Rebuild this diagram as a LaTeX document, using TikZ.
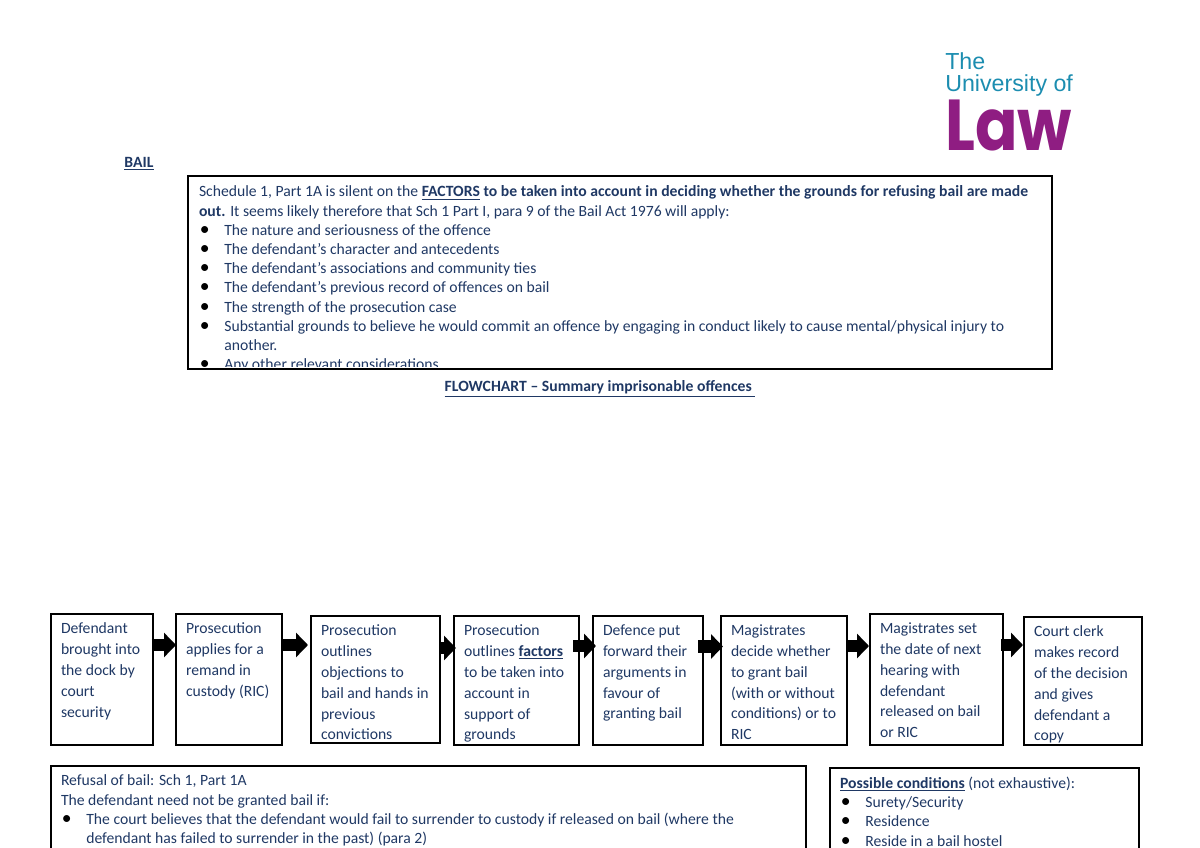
\documentclass[tikz,border=0pt]{standalone}
\usepackage{fontspec}
\usepackage{tikz}
\usetikzlibrary{arrows.meta}
\setmainfont[BoldFeatures={LetterSpace=0.2}]{Carlito}
\newfontfamily\logofont{Liberation Sans}
\newfontfamily\lawfont{Poppins}
\definecolor{inknavy}{HTML}{1F3864}
\definecolor{logoteal}{HTML}{1C8DB0}
\definecolor{logopurple}{HTML}{8F1D82}
\newdimen\px
\px=.75pt
% text that starts at the top of its box
\newcommand{\boxtext}[3]{\parbox[c][#2\px][t]{#1\px}{\raggedright #3}}
\newcommand{\bulletrow}{\makebox[19pt][l]{\hspace{.6pt}\textcolor{black}{\scalebox{1.25}{\textbullet}}}}
\newcommand{\indentrow}{\hspace*{19pt}}
\tikzset{
    textbox/.style={anchor=north west, text=inknavy, inner xsep=10\px, inner ysep=9\px, line width=1.5pt},
    flowbox/.style={textbox, draw, font=\fontsize{11.75}{15.6}\selectfont},
    notebox/.style={textbox, font=\fontsize{11.75}{14.4}\selectfont},
    heading/.style={text=inknavy, font=\fontsize{11.75}{14.4}\selectfont\bfseries, inner sep=0pt},
    bigarrow/.style={line width=9.5pt, -{Triangle[length=9pt,width=18pt]}}
}
\begin{document}
\begin{tikzpicture}[x=.75pt, y=-.75pt]
    \clip (0,0) rectangle (1200,848);

    %logo
    \node[anchor=west, inner sep=0pt, text=logoteal, font=\logofont\fontsize{17.4}{17.4}\selectfont] (logothe) at (945,61) {The};
    \node[anchor=west, inner sep=0pt, text=logoteal, font=\logofont\fontsize{17.4}{17.4}\selectfont] (logouni) at (945,86) {University of};
    \node[anchor=west, inner sep=0pt, text=logopurple, font=\lawfont\bfseries\fontsize{47}{47}\selectfont] (logolaw) at (945,125) {\scalebox{1}[1.15]{Law}};

    %headings
    \node[heading] (bail) at (139,164) {\underline{BAIL}};
    \node[heading] (title) at (600,389) {\underline{FLOWCHART -- Summary imprisonable offences\ }};

    %factors box, last row is cut off by the frame
    \begin{scope}
        \clip (188,176) rectangle (1052,367);
        \node[notebox] (factors) at (188,176) {\boxtext{842}{173}{%
            Schedule 1, Part 1A is silent on the \textbf{\underline{FACTORS} to be taken into account in deciding whether the grounds for refusing bail are made}\\
            \textbf{out.} It seems likely therefore that Sch 1 Part I, para 9 of the Bail Act 1976 will apply:\\
            \bulletrow The nature and seriousness of the offence\\
            \bulletrow The defendant’s character and antecedents\\
            \bulletrow The defendant’s associations and community ties\\
            \bulletrow The defendant’s previous record of offences on bail\\
            \bulletrow The strength of the prosecution case\\
            \bulletrow Substantial grounds to believe he would commit an offence by engaging in conduct likely to cause mental/physical injury to\\
            \indentrow another.\\
            \bulletrow Any other relevant considerations}};
    \end{scope}
    \draw[line width=1.5pt] (factors.north west) rectangle (factors.south east);

    %flow nodes
    \node[flowbox] (dock) at (50,613) {\boxtext{82}{113}{Defendant\\brought into\\the dock by\\court\\security}};
    \node[flowbox] (remand) at (175,613) {\boxtext{86}{113}{Prosecution\\applies for a\\remand in\\custody (RIC)}};
    \node[flowbox] (objections) at (310,615) {\boxtext{109}{109}{Prosecution\\outlines\\objections to\\bail and hands in\\previous\\convictions}};
    \node[flowbox] (grounds) at (453,615) {\boxtext{105}{111}{Prosecution\\outlines \textbf{\underline{factors}}\\to be taken into\\account in\\support of\\grounds}};
    \node[flowbox] (defence) at (592,615) {\boxtext{90}{111}{Defence put\\forward their\\arguments in\\favour of\\granting bail}};
    \node[flowbox] (decide) at (720,615) {\boxtext{106}{111}{Magistrates\\decide whether\\to grant bail\\(with or without\\conditions) or to\\RIC}};
    \node[flowbox] (hearing) at (869,613) {\boxtext{113}{113}{Magistrates set\\the date of next\\hearing with\\defendant\\released on bail\\or RIC}};
    \node[flowbox] (clerk) at (1023,616) {\boxtext{98}{110}{Court clerk\\makes record\\of the decision\\and gives\\defendant a\\copy}};

    %bottom nodes, they run on past the page
    \node[notebox, draw] (refusal) at (50,765) {\boxtext{735}{100}{%
        Refusal of bail: Sch 1, Part 1A\\
        The defendant need not be granted bail if:\\
        \bulletrow The court believes that the defendant would fail to surrender to custody if released on bail (where the\\
        \indentrow defendant has failed to surrender in the past) (para 2)}};
    \node[notebox, draw] (conditions) at (829,767) {\boxtext{289}{100}{%
        \textbf{\underline{Possible conditions}} (not exhaustive):\\
        \bulletrow Surety/Security\\
        \bulletrow Residence\\
        \bulletrow Reside in a bail hostel}};

    %edges
    \foreach \from/\to/\rowy/\startgap/\endgap in {
        dock/remand/645/2.5/-1,
        remand/objections/645/0/2,
        objections/grounds/648/1/-3,
        grounds/defence/646/7/-4,
        defence/decide/646.5/6/-3,
        decide/hearing/646/0/0,
        hearing/clerk/645/3/0} {
        \draw[bigarrow, shorten <=-\startgap\px, shorten >=\endgap\px] (\from.east |- 0,\rowy) -- (\to.west |- 0,\rowy);
    }
\end{tikzpicture}
\end{document}
